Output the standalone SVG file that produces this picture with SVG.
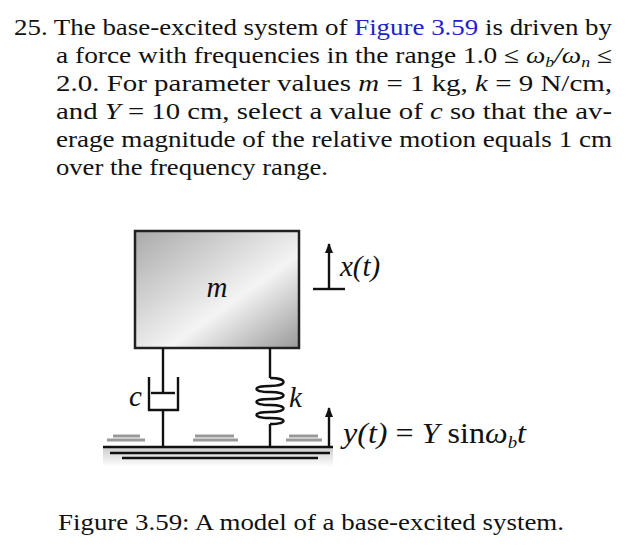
<svg xmlns="http://www.w3.org/2000/svg" width="628" height="553" viewBox="0 0 628 553">
<style>
.t{font-family:"Liberation Serif",serif;font-size:23px;fill:#111}
.i{font-family:"Liberation Serif",serif;font-style:italic;font-size:29px;fill:#111}
.l{stroke:#111;stroke-width:2.4;fill:none}
.g{stroke:#999;stroke-width:3}
</style>
<defs>
<linearGradient id="mg" x1="0" y1="0" x2="1" y2="1">
<stop offset="0" stop-color="#aaa"/><stop offset="0.6" stop-color="#f4f4f4"/><stop offset="1" stop-color="#999"/>
</linearGradient>
<linearGradient id="gg" x1="0" y1="0" x2="0" y2="1">
<stop offset="0" stop-color="#ccc"/><stop offset="1" stop-color="#fff"/>
</linearGradient>
<marker id="a" markerWidth="10" markerHeight="8" refX="9" refY="4" orient="auto" markerUnits="userSpaceOnUse"><path d="M0,0 L10,4 L0,8 Z" fill="#111"/></marker>
</defs>
<g id="text">
<text class="t" x="14" y="35" textLength="598" lengthAdjust="spacingAndGlyphs">25. The base-excited system of <tspan fill="#2222cc">Figure 3.59</tspan> is driven by</text>
<text class="t" x="56" y="63" textLength="556" lengthAdjust="spacingAndGlyphs">a force with frequencies in the range 1.0 ≤ <tspan font-style="italic">ω<tspan font-size="15" dy="4">b</tspan><tspan dy="-4">/ω</tspan><tspan font-size="15" dy="4">n</tspan></tspan><tspan dy="-4"> ≤</tspan></text>
<text class="t" x="56" y="91" textLength="556" lengthAdjust="spacingAndGlyphs">2.0.  For parameter values <tspan font-style="italic">m</tspan> = 1 kg, <tspan font-style="italic">k</tspan> = 9 N/cm,</text>
<text class="t" x="56" y="119" textLength="556" lengthAdjust="spacingAndGlyphs">and <tspan font-style="italic">Y</tspan> = 10 cm, select a value of <tspan font-style="italic">c</tspan> so that the av-</text>
<text class="t" x="56" y="147" textLength="556" lengthAdjust="spacingAndGlyphs">erage magnitude of the relative motion equals 1 cm</text>
<text class="t" x="56" y="175" textLength="272" lengthAdjust="spacingAndGlyphs">over the frequency range.</text>
<text class="t" x="311" y="530" text-anchor="middle" textLength="506" lengthAdjust="spacingAndGlyphs">Figure 3.59: A model of a base-excited system.</text>
</g>
<g id="ground">
<rect x="103" y="447" width="230" height="20" fill="url(#gg)"/>
<line class="l" x1="103" y1="447" x2="333" y2="447" stroke-width="3"/>
<line class="l" x1="110" y1="453" x2="330" y2="453" stroke-width="1.5"/>
<line class="l" x1="122" y1="458" x2="318" y2="458" stroke-width="1.5"/>
<line class="g" x1="107" y1="440" x2="145" y2="440"/><line class="g" x1="113" y1="436" x2="140" y2="436" stroke-width="2"/>
<line class="g" x1="193" y1="440" x2="238" y2="440"/><line class="g" x1="195" y1="436" x2="234" y2="436" stroke-width="2"/>
<line class="g" x1="286" y1="440" x2="322" y2="440"/><line class="g" x1="289" y1="436" x2="318" y2="436" stroke-width="2"/>
</g>
<g id="mass">
<rect x="135" y="231" width="164" height="117" fill="url(#mg)" stroke="#222" stroke-width="2.5"/>
<text class="i" x="217" y="297" text-anchor="middle">m</text>
</g>
<g id="damper">
<line class="l" x1="163" y1="348" x2="163" y2="393"/>
<line class="l" x1="151" y1="393" x2="175" y2="393" stroke-width="3"/>
<path class="l" d="M149,377 V410 H178 V377"/>
<line class="l" x1="163" y1="410" x2="163" y2="447"/>
<text class="i" x="129" y="406">c</text>
</g>
<g id="spring">
<line class="l" x1="270" y1="348" x2="270" y2="378"/>
<path class="l" d="M270,378 C288,378 288,386 270,386 C252,386 252,392 270,392 C288,392 288,399 270,399 C252,399 252,405 270,405 C288,405 288,412 270,412 C252,412 252,418 270,418 C288,418 288,424 270,424"/>
<line class="l" x1="270" y1="424" x2="270" y2="447"/>
<text class="i" x="289" y="407">k</text>
</g>
<g id="connectors">
<line class="l" x1="313" y1="289" x2="345" y2="289" stroke-width="1.8"/>
<line class="l" x1="329" y1="289" x2="329" y2="244" stroke-width="1.8" marker-end="url(#a)"/>
<line class="l" x1="329" y1="447" x2="329" y2="408" stroke-width="1.8" marker-end="url(#a)"/>
</g>
<g id="labels">
<text class="i" x="340" y="276">x(t)</text>
<text class="i" x="343" y="443" textLength="183" lengthAdjust="spacingAndGlyphs">y(t) <tspan font-style="normal">= </tspan>Y <tspan font-style="normal">sin</tspan>ω<tspan font-size="17" dy="5">b</tspan><tspan dy="-5">t</tspan></text>
</g>
</svg>
